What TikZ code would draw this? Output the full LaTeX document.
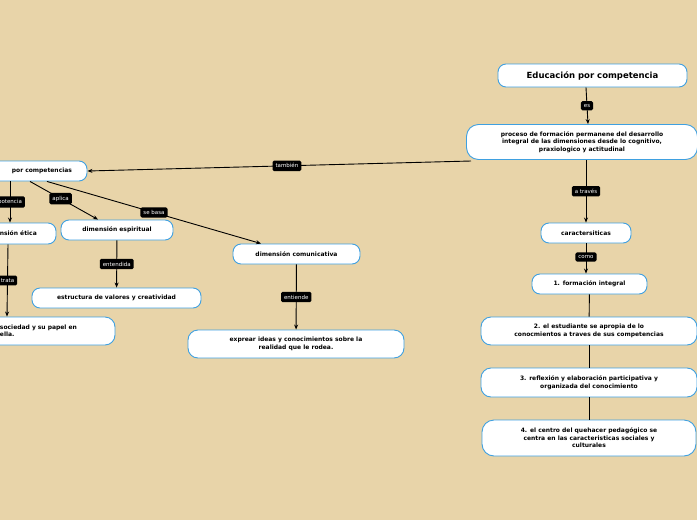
\documentclass[tikz,border=0pt]{standalone}
\usepackage{fontspec}
\setmainfont{DejaVu Sans}
\usetikzlibrary{arrows.meta}
\definecolor{bg}{HTML}{E8D4A9}
\definecolor{bd}{HTML}{3FA0E0}
\begin{document}
\begin{tikzpicture}[x=1pt,y=-1pt,
 box/.style={draw=bd,line width=0.9pt,fill=white,rounded corners=8pt,align=center,font=\fontsize{6}{7.5}\selectfont\bfseries,inner sep=2pt},
 lab/.style={fill=black,rounded corners=1.5pt,text=white,font=\fontsize{5.5}{6}\selectfont,inner sep=3pt},
 ar/.style={draw=black,line width=0.9pt,-{Stealth[length=5pt,width=4pt]}},
 ln/.style={draw=black,line width=0.9pt}]
\fill[bg] (0,0) rectangle (697,520);
\useasboundingbox (0,0) rectangle (697,520);
\begin{scope}
\clip (0,0) rectangle (697,520);
\node[box,minimum width=189,minimum height=23,font=\fontsize{8.5}{10}\selectfont\bfseries] (t) at (592.5,75.5) {Educación por competencia};
\node[box,minimum width=231,minimum height=35,rounded corners=12pt] (p) at (582,142) {proceso de formación permanene del  desarrollo\\integral de las  dimensiones desde lo cognitivo,\\praxiologico y actitudinal};
\node[box,minimum width=90,minimum height=20] (c) at (586,233) {caractersiticas};
\node[box,minimum width=115,minimum height=20] (f1) at (589.5,284) {1. formación integral};
\node[box,minimum width=216,minimum height=28,rounded corners=10pt] (f2) at (589,331) {2. el estudiante se apropia de lo\\conocmientos a traves de sus competencias};
\node[box,minimum width=216,minimum height=29,rounded corners=10pt] (f3) at (589,382.5) {3. reflexión y elaboración participativa y\\organizada del conocimiento};
\node[box,minimum width=214,minimum height=36,rounded corners=12pt] (f4) at (589,438) {4. el centro del quehacer pedagógico se\\centra en las caracteristicas sociales y\\culturales};
\node[box,minimum width=134,minimum height=20,text width=104,align=right,inner xsep=15pt] (r) at (20,171) {por competencias};
\node[box,minimum width=92,minimum height=21] (de) at (10,233.5) {dimensión ética};
\node[box,minimum width=112,minimum height=20] (ds) at (117,230) {dimensión espiritual};
\node[box,minimum width=127,minimum height=20] (dc) at (296.5,254) {dimensión comunicativa};
\node[box,minimum width=169,minimum height=20] (ev) at (116.5,298) {estructura de valores y creatividad};
\node[box,minimum width=216,minimum height=28,rounded corners=10pt] (ex) at (296,344) {exprear ideas y conocimientos sobre la\\realidad que le rodea.};
\node[box,minimum width=310,minimum height=28,rounded corners=10pt,text width=290,inner xsep=10pt,align=left] (so) at (-40,331) {\hspace*{185pt}sociedad y su papel en\\\hspace*{185pt}ella.};
\coordinate (pl) at (471,161);
\draw[ar] (t.south -| 586,0) -- node[lab]{es} (p.north -| 588,0);
\draw[ar] (p.south -| 586,0) -- node[lab]{a través} (c.north -| 586,0);
\draw[ar] (c.south -| 586,0) -- node[lab,pos=0.45]{como} (f1.north -| 586,0);
\draw[ln] (f1) -- (f2);
\draw[ln] (f2) -- (f3);
\draw[ln] (f3) -- (f4);
\draw[ar] (pl) -- node[lab,pos=0.48]{también} (r.east);
\draw[ar] (r.south -| 10,0) -- node[lab]{potencia} (de.north -| 10,0);
\draw[ar] (r.south -| 30,0) -- node[lab,pos=0.45]{aplica} (ds.north -| 98,0);
\draw[ar] (r.south -| 47,0) -- node[lab,pos=0.5]{se basa} (dc.north -| 261,0);
\draw[ar] (de.south -| 8,0) -- node[lab]{trata} (so.north -| 7,0);
\draw[ar] (ds) -- node[lab]{entendida} (ev);
\draw[ar] (dc) -- node[lab]{entiende} (ex);
\end{scope}
\end{tikzpicture}
\end{document}
